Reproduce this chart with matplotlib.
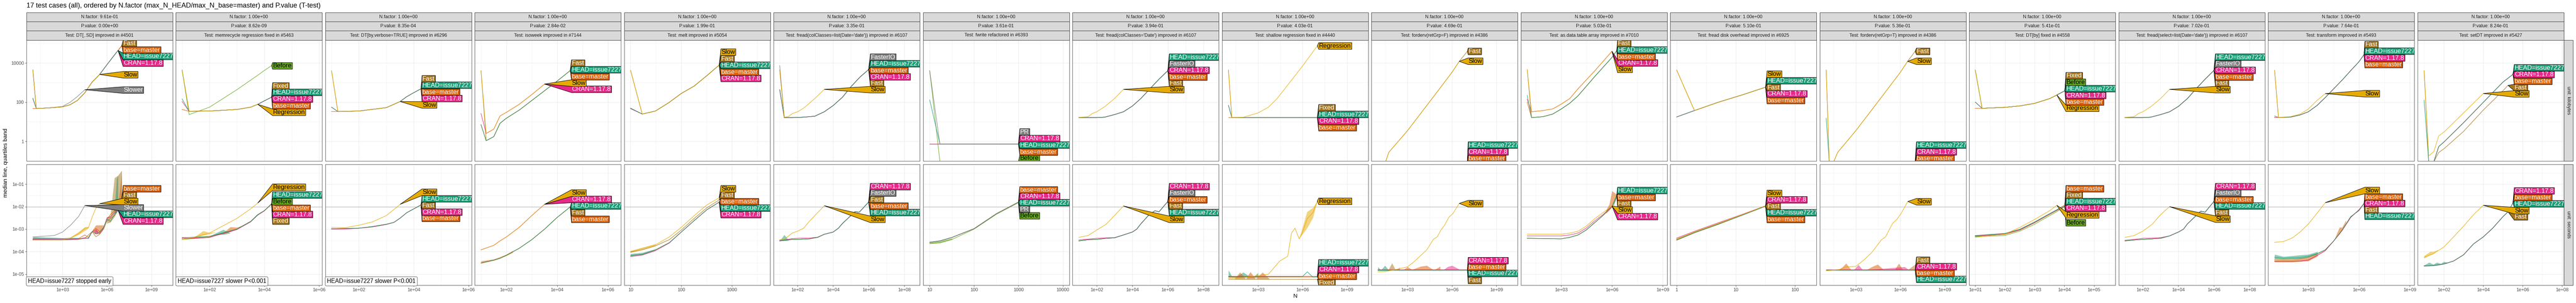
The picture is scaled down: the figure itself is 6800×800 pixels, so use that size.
import matplotlib
matplotlib.use("Agg")
import matplotlib.pyplot as plt
from matplotlib.patches import Polygon, Rectangle
from matplotlib.ticker import NullFormatter
from matplotlib.transforms import IdentityTransform
import numpy as np

plt.rcParams["font.family"] = ["Liberation Sans", "DejaVu Sans"]

HEAD = "HEAD=issue7227"
BASE = "base=master"
CRAN = "CRAN=1.17.8"
SLOW = "Slow"
FAST = "Fast"
SLOWER = "Slower"
REGR = "Regression"
FIXED = "Fixed"
BEFORE = "Before"
FIO = "FasterIO"
PR = "PR"

title = "17 test cases (all), ordered by N.factor (max_N_HEAD/max_N_base=master) and P.value (T-test)"
n_factors = ["9.61e-01"] + ["1.00e+00"] * 16
p_values = ["0.00e+00", "8.62e-09", "8.35e-04", "2.84e-02", "1.99e-01", "3.35e-01", "3.61e-01", "3.94e-01", "4.03e-01",
            "4.69e-01", "5.03e-01", "5.10e-01", "5.36e-01", "5.41e-01", "7.02e-01", "7.64e-01", "8.24e-01"]
test_names = ["DT[,.SD] improved in #4501", "memrecycle regression fixed in #5463", "DT[by,verbose=TRUE] improved in #6296",
              "isoweek improved in #7144", "melt improved in #5054", "fread(colClasses=list(Date='date')) improved in #6107",
              "fwrite refactored in #6393", "fread(colClasses='Date') improved in #6107", "shallow regression fixed in #4440",
              "forderv(retGrp=F) improved in #4386", "as.data.table.array improved in #7010",
              "fread disk overhead improved in #6925", "forderv(retGrp=T) improved in #4386", "DT[by] fixed in #4558",
              "fread(select=list(Date='date')) improved in #6107", "transform improved in #5493", "setDT improved in #5427"]
notes = {0: "HEAD=issue7227 stopped early", 1: "HEAD=issue7227 slower P<0.001", 2: "HEAD=issue7227 slower P<0.001"}

# x axis limits per panel, as powers of ten
x_lo_exp = [.5625, .77, .77, .751, .874, .656, .85, .64, .5625, .5625, .623, -.108, .5625, .794, .64, .615, .663]
x_hi_exp = [10.425, 6.11, 6.11, 6.515, 3.756, 8.875, 4.144, 8.86, 10.425, 10.425, 9.246, 2.366, 10.425, 5.72, 8.86, 9.27, 8.08]
ticks_369 = [1e3, 1e6, 1e9]
ticks_246 = [1e2, 1e4, 1e6]
ticks_2468 = [1e2, 1e4, 1e6, 1e8]
x_ticks = [ticks_369, ticks_246, ticks_246, ticks_246, [10, 100, 1000], ticks_2468, [10, 100, 1000, 10000], ticks_2468,
           ticks_369, ticks_369, ticks_369, [1, 10, 100], ticks_369, [1e1, 1e2, 1e3, 1e4, 1e5], ticks_2468, ticks_369, ticks_2468]
x_ticklabels = {0: ["1e+03", "1e+06", "1e+09"], 1: ["1e+02", "1e+04", "1e+06"], 2: ["1e+02", "1e+04", "1e+06"],
                3: ["1e+02", "1e+04", "1e+06"], 4: ["10", "100", "1000"], 5: ["1e+02", "1e+04", "1e+06", "1e+08"],
                6: ["10", "100", "1000", "10000"], 7: ["1e+02", "1e+04", "1e+06", "1e+08"], 8: ["1e+03", "1e+06", "1e+09"],
                9: ["1e+03", "1e+06", "1e+09"], 10: ["1e+03", "1e+06", "1e+09"], 11: ["1", "10", "100"],
                12: ["1e+03", "1e+06", "1e+09"], 13: ["1e+01", "1e+02", "1e+03", "1e+04", "1e+05"],
                14: ["1e+02", "1e+04", "1e+06", "1e+08"], 15: ["1e+03", "1e+06", "1e+09"], 16: ["1e+02", "1e+04", "1e+06", "1e+08"]}

# ---- DT[,.SD]
p01_kb_N = [10, 17, 100, 1000, 3200, 1e4, 3.2e4, 1e5, 3.2e5, 1e6, 3.2e6, 5.6e6, 1e7]
p01_kb_main = [47, 50, 57, 73, 120, 300, 1050, 2570, 8100, 25300, 42900, 76000]
p01_kb = {FAST: [4400] + p01_kb_main, BASE: [47] + p01_kb_main, CRAN: [150] + p01_kb_main[:11], HEAD: [160] + p01_kb_main[:11],
          SLOWER: [4400, 47, 50, 60, 97, 190, 427], SLOW: [4400] + p01_kb_main[:8]}
p01_s_N = [10, 280, 1000, 3500, 12000, 32000, 56000, 1e5, 1.8e5, 3.2e5, 5.9e5, 1e6, 1.7e6, 3.2e6, 5.6e6, 1e7]
p01_s = {FAST: [3.3e-4, 3.3e-4, 3.3e-4, 3.4e-4, 3.5e-4, 3.9e-4, 5.5e-4, 7.7e-4, 4.6e-4, 5.9e-4, 1e-3, 2.3e-3, 3e-3, 4e-3, 1.1e-2, 2.4e-2],
         BASE: [3.4e-4, 3.4e-4, 3.4e-4, 3.4e-4, 3.8e-4, 5.5e-4, 4.3e-4, 7.7e-4, 1.07e-3, 7.7e-4, 1.2e-3, 2.6e-3, 4.4e-3, 6.5e-3, 9.7e-3, 2.2e-2],
         CRAN: [3.6e-4, 3.5e-4, 3.5e-4, 3.5e-4, 3.6e-4, 4.2e-4, 3.8e-4, 7.7e-4, 8.7e-4, 6.3e-4, 1.1e-3, 3.2e-3, 3.4e-3, 5.5e-3, 7e-3],
         HEAD: [3.8e-4, 3.8e-4, 3.8e-4, 3.8e-4, 3.8e-4, 3.8e-4, 4e-4, 7.7e-4, 6.3e-4, 7.2e-4, 1.2e-3, 2.8e-3, 2.2e-3, 4.4e-3, 7e-3],
         SLOWER: [4.5e-4, 5.2e-4, 7.4e-4, 1.5e-3, 3.6e-3, 1.12e-2],
         SLOW: [3.3e-4, 3.3e-4, 3.3e-4, 4.1e-4, 6.3e-4, 1.07e-3, 1.17e-3, 3.4e-3, 8.8e-3, 1.36e-2]}
p01_s_bands = [(FAST, [1e6, 1.7e6, 3.2e6, 5.6e6, 1e7], [1.8e-3, 2e-3, 3.5e-3, 6.8e-3, 2.4e-2], [3.5e-3, 4e-3, 1.9e-1, 2.45e-1, 4.1e-1]),
               (BASE, [1e5, 1.8e5, 3.2e5, 5.9e5], [7.7e-4, 6e-4, 6.3e-4, 1.1e-3], [8.5e-4, 1.5e-3, 1.5e-3, 1.5e-3]),
               (BASE, [3.2e6, 5.6e6, 1e7], [6e-3, 9e-3, 2.2e-2], [7e-3, 1.1e-2, 3.4e-1]),
               (HEAD, [10, 280, 1000, 3500, 12000], [3.4e-4, 3.5e-4, 3.5e-4, 3.5e-4, 3.6e-4], [4.6e-4, 4.2e-4, 4e-4, 4.2e-4, 4.1e-4]),
               (HEAD, [3.2e6, 4.5e6, 5.6e6], [4.4e-3, 5.5e-3, 7e-3], [6e-3, 1.7e-1, 2.45e-1]),
               (CRAN, [1.4e5, 1.8e5, 2.4e5], [6e-4, 6.3e-4, 6e-4], [8e-4, 1.05e-3, 8e-4]),
               (SLOW, [3500, 12000, 32000, 56000], [3.9e-4, 5.6e-4, 8.5e-4, 1.1e-3], [4.4e-4, 7.5e-4, 1.25e-3, 1.3e-3])]
p01_kb_labels = [(SLOWER, 466), (SLOW, 387), (CRAN, 327), (HEAD, 292), (BASE, 259), (FAST, 225)]
p01_s_labels = [(CRAN, 1144), (HEAD, 1109), (BASE, 977), (FAST, 1010), (SLOW, 1043), (SLOWER, 1076)]

# ---- memrecycle
p02_kb_N = [10, 18, 100, 1000, 3200, 5800, 10000, 18600]
p02_kb_main = [34, 35, 42, 55, 77, 115, 178]
p02_kb = {FIXED: [4300] + p02_kb_main, BASE: [42] + p02_kb_main, CRAN: [107] + p02_kb_main, HEAD: [145] + p02_kb_main,
          BEFORE: [4300, 23, 55, 427, 1320, 2350, 4070, 7240], REGR: [4300] + p02_kb_main[:5]}
p02_s_N = [10, 18, 100, 1000, 3200, 5800, 10000, 18600]
p02_s = {FIXED: [3.5e-4, 3.7e-4, 4.3e-4, 1e-3, 2.2e-3, 4.4e-3, 6.6e-3, 1.3e-2],
         BEFORE: [3.5e-4, 3.7e-4, 4.3e-4, 1e-3, 2.2e-3, 4.4e-3, 6.6e-3, 1.3e-2],
         BASE: [3.9e-4, 4e-4, 4.6e-4, 1e-3, 2.2e-3, 4.4e-3, 6.6e-3, 1.35e-2],
         CRAN: [4e-4, 3.9e-4, 4.3e-4, 9.5e-4, 2.1e-3, 4.2e-3, 6.4e-3, 1.35e-2],
         HEAD: [4.3e-4, 4.3e-4, 4.8e-4, 1e-3, 2.2e-3, 4.4e-3, 6.6e-3, 1.3e-2],
         REGR: [3.5e-4, 3.9e-4, 6.7e-4, 3e-3, 8e-3, 1.45e-2]}
p02_s_bands = [(REGR, [28, 58, 100, 180], [4.2e-4, 5.2e-4, 6e-4, 7.5e-4], [4.4e-4, 8.4e-4, 7e-4, 7.5e-4]),
               (HEAD, [100, 180, 320, 560], [4.8e-4, 5.6e-4, 5.7e-4, 6.5e-4], [4.8e-4, 6.9e-4, 9.5e-4, 6.8e-4]),
               (BASE, [300, 580, 1000, 1500], [6e-4, 7.5e-4, 1e-3, 1.3e-3], [6.5e-4, 1.25e-3, 1.2e-3, 1.4e-3])]
p02_kb_labels = [(REGR, 581), (BASE, 547), (CRAN, 513), (HEAD, 478), (FIXED, 445), (BEFORE, 341)]
p02_s_labels = [(FIXED, 1144), (CRAN, 1110), (BASE, 1078), (BEFORE, 1044), (HEAD, 1009), (REGR, 969)]

# ---- DT[by,verbose=TRUE]
p03_kb_N = [10, 17, 100, 1000, 3200, 5600, 10000, 18600]
p03_kb_main = [33, 35, 52, 107, 190, 300, 480]
p03_kb = {FAST: [4000] + p03_kb_main, BASE: [33] + p03_kb_main, CRAN: [55] + p03_kb_main, HEAD: [55] + p03_kb_main,
          SLOW: [4000] + p03_kb_main[:4]}
p03_s_N = [10, 30, 100, 310, 1000, 1900, 3200, 5600, 18600]
p03_s_main = [1.04e-3, 1.07e-3, 1.1e-3, 1.3e-3, 1.65e-3, 2e-3, 3.1e-3, 5.4e-3, 1.2e-2]
p03_s = {FAST: p03_s_main, BASE: p03_s_main, CRAN: [1e-3, 1e-3, 1.1e-3, 1.25e-3, 1.6e-3, 2e-3, 3.1e-3, 5.4e-3, 1.2e-2], HEAD: p03_s_main,
         SLOW: [1.2e-3, 1.15e-3, 1.5e-3, 2.1e-3, 4e-3, 7.5e-3, 1.27e-2]}
p03_s_bands = []
p03_kb_labels = [(SLOW, 543), (CRAN, 510), (BASE, 477), (HEAD, 441), (FAST, 408)]
p03_s_labels = [(BASE, 1130), (CRAN, 1098), (FAST, 1064), (HEAD, 1029), (SLOW, 995)]

# ---- isoweek
p04_kb_N = [10, 16, 32, 56, 100, 320, 1000, 3200, 10000, 33000]
p04_kb_main = [1.07, 1.74, 8.3, 15, 39, 120, 380, 1175, 4070]
p04_kb_slow = [2.5, 4.2, 19.5, 30, 77, 240, 832]
p04_kb = {FAST: [4000] + p04_kb_main, BASE: [7] + p04_kb_main, HEAD: [7] + p04_kb_main, CRAN: [26] + p04_kb_slow,
          SLOW: [4000] + p04_kb_slow}
p04_s_N = [10, 32, 56, 100, 320, 1000, 3200, 10000, 33000]
p04_s_main = [3.1e-5, 4.2e-5, 5e-5, 6.9e-5, 1.4e-4, 3.4e-4, 1e-3, 3.3e-3, 9.8e-3]
p04_s_slow = [1.2e-4, 1.9e-4, 3e-4, 4.5e-4, 1.2e-3, 4e-3, 1.27e-2]
p04_s = {FAST: p04_s_main, BASE: p04_s_main, HEAD: p04_s_main, CRAN: p04_s_slow, SLOW: p04_s_slow}
p04_s_bands = [(BASE, [10, 32, 100, 180], [3e-5, 4e-5, 6.5e-5, 9e-5], [3.8e-5, 4.6e-5, 7.5e-5, 1.1e-4])]
p04_kb_labels = [(CRAN, 462), (SLOW, 430), (BASE, 397), (HEAD, 361), (FAST, 327)]
p04_s_labels = [(BASE, 1135), (FAST, 1101), (HEAD, 1066), (CRAN, 1032), (SLOW, 999)]

# ---- melt
p05_N = [10, 17, 31, 58, 100, 180, 320, 560]
p05_kb_main = [24.5, 35, 97, 275, 660, 2240, 7760]
p05_kb = {BASE: [49] + p05_kb_main, CRAN: [46] + p05_kb_main, HEAD: [49] + p05_kb_main, FAST: [4200] + p05_kb_main,
          SLOW: [4200] + p05_kb_main}
p05_s = {FAST: [9.5e-5, 1.2e-4, 1.8e-4, 3.4e-4, 9.1e-4, 3e-3, 8.9e-3, 2e-2],
         BASE: [6.7e-5, 7.6e-5, 1.2e-4, 2.5e-4, 7.4e-4, 2.4e-3, 7.3e-3, 1.6e-2],
         CRAN: [6e-5, 7e-5, 1.1e-4, 2.4e-4, 7.4e-4, 2.4e-3, 7.3e-3, 1.6e-2],
         HEAD: [6.7e-5, 7.6e-5, 1.2e-4, 2.5e-4, 7.4e-4, 2.4e-3, 7.3e-3, 1.6e-2],
         SLOW: [1e-4, 1.4e-4, 2e-4, 4.5e-4, 1.2e-3, 4e-3, 1.2e-2, 2.5e-2]}
p05_s_bands = [(HEAD, [10, 17, 31], [6e-5, 7e-5, 1.1e-4], [8e-5, 9e-5, 1.3e-4]), (SLOW, [10, 17, 31], [9e-5, 1.2e-4, 1.8e-4], [1.1e-4, 1.5e-4, 2.2e-4])]
p05_kb_labels = [(CRAN, 406), (BASE, 374), (HEAD, 338), (FAST, 304), (SLOW, 270)]
p05_s_labels = [(CRAN, 1111), (HEAD, 1077), (BASE, 1044), (FAST, 1010), (SLOW, 977)]

# ---- fread(colClasses=list(Date='date'))
p06_kb_N = [10, 18, 30, 52, 100, 220, 930, 3200, 1e4, 3.4e4, 1e5, 3.2e5, 1e6]
p06_kb_main = [16.2, 16.2, 16.2, 16.5, 17, 19, 32, 66, 178, 600, 1860, 4600]
p06_kb = {FAST: [4300] + p06_kb_main, BASE: [430] + p06_kb_main, CRAN: [427] + p06_kb_main, FIO: [7300] + p06_kb_main,
          HEAD: [430] + p06_kb_main, SLOW: [4300, 17, 18, 26, 32, 49, 151, 445]}
p06_s_N = [10, 18, 52, 100, 220, 460, 1350, 3200, 10000, 20000, 34000, 1e5, 1.7e5, 3e5, 1e6]
p06_s_main = [3e-4, 3.2e-4, 3.5e-4, 3.5e-4, 3.6e-4, 3.7e-4, 4.3e-4, 5.9e-4, 7.4e-4, 1.1e-3, 1.8e-3, 4e-3, 6e-3, 5.7e-3, 1.6e-2]
p06_s = {FAST: p06_s_main, BASE: p06_s_main, CRAN: [3.2e-4, 3.3e-4, 3.8e-4, 3.9e-4, 4e-4, 4e-4, 4.4e-4, 5.9e-4, 7.4e-4, 1.1e-3, 1.8e-3, 4e-3, 6e-3, 5.7e-3, 1.6e-2],
         FIO: p06_s_main, HEAD: p06_s_main, SLOW: [3.4e-4, 3.5e-4, 6.8e-4, 8.1e-4, 1.1e-3, 2.2e-3, 5.4e-3, 1.1e-2]}
p06_s_bands = [(HEAD, [10, 18, 32], [3e-4, 3e-4, 3.1e-4], [3e-4, 5.6e-4, 3.3e-4])]
p06_kb_labels = [(SLOW, 464), (FAST, 431), (CRAN, 398), (BASE, 365), (HEAD, 330), (FIO, 296)]
p06_s_labels = [(SLOW, 1135), (HEAD, 1100), (BASE, 1067), (FAST, 1033), (FIO, 999), (CRAN, 966)]

# ---- fwrite
p07_N = [10, 17, 32, 100, 320, 1000]
p07_kb = {BEFORE: [4000, .09, .09, .09, .09, .09], BASE: [.72, .72, .72, .72, .72, .72], HEAD: [129, .72, .72, .72, .72, .72],
          CRAN: [.72, .72, .72, .72, .72, .72], PR: [4000, .72, .72, .72, .72, .72]}
p07_s_main = [2.6e-4, 3e-4, 4.3e-4, 1.05e-3, 4.9e-3, 1.6e-2]
p07_s = {BEFORE: [2.3e-4, 2.5e-4, 3.5e-4, 1e-3, 4.6e-3, 1.5e-2], BASE: p07_s_main, CRAN: p07_s_main, HEAD: p07_s_main, PR: p07_s_main}
p07_s_bands = [(BEFORE, [10, 17, 32], [2.2e-4, 2.4e-4, 3.4e-4], [2.8e-4, 3e-4, 4e-4])]
p07_kb_labels = [(BEFORE, 819), (BASE, 787), (HEAD, 751), (CRAN, 717), (PR, 683)]
p07_s_labels = [(BEFORE, 1117), (PR, 1083), (HEAD, 1049), (CRAN, 1016), (BASE, 983)]

# ---- fread(colClasses='Date')
p08_kb_N = [10, 33, 56, 100, 280, 1000, 3200, 1e4, 3e4, 8.9e4, 3.2e5, 1e6]
p08_kb_main = [16.2, 16.2, 16.2, 16.2, 17, 23, 32, 62, 150, 430, 1480, 4000]
p08_kb = {FAST: p08_kb_main, BASE: p08_kb_main, CRAN: p08_kb_main, FIO: p08_kb_main, HEAD: p08_kb_main,
          SLOW: [16.6, 18, 26, 32, 58, 151, 445]}
p08_s_N = [10, 33, 100, 340, 1000, 3200, 1e4, 1.8e4, 3e4, 8.9e4, 1.9e5, 3.2e5, 1e6]
p08_s_main = [3e-4, 3.4e-4, 3.5e-4, 3.9e-4, 4.1e-4, 5.5e-4, 7.4e-4, 1e-3, 1.7e-3, 4.4e-3, 6.6e-3, 5.9e-3, 1.7e-2]
p08_s = {FAST: p08_s_main, BASE: p08_s_main, CRAN: [3.3e-4, 3.6e-4, 3.9e-4, 4.1e-4, 4.2e-4, 5.5e-4, 7.4e-4, 1e-3, 1.7e-3, 4.4e-3, 6.6e-3, 5.9e-3, 1.7e-2],
         FIO: p08_s_main, HEAD: p08_s_main, SLOW: [4.3e-4, 5.2e-4, 9.1e-4, 1.65e-3, 4e-3, 1.07e-2]}
p08_s_bands = []
p08_kb_labels = [(SLOW, 464), (FAST, 431), (BASE, 399), (CRAN, 364), (FIO, 331), (HEAD, 296)]
p08_s_labels = [(SLOW, 1135), (HEAD, 1100), (FAST, 1066), (BASE, 1034), (FIO, 999), (CRAN, 966)]

# ---- shallow regression
p09_kb_N = [10, 17, 100, 1000, 5000, 19000, 1e5, 1e6, 1e7]
p09_kb_flat = [16.2, 16.2, 16.2, 16.2, 16.2, 16.2, 16.2, 16.2]
p09_kb = {FIXED: [4300] + p09_kb_flat, BASE: [16.2] + p09_kb_flat, CRAN: [68] + p09_kb_flat, HEAD: [68] + p09_kb_flat,
          REGR: [4300, 16.2, 16.8, 28, 55, 150, 740, 6900, 74000]}
p09_s_N = [10, 100, 1000, 5100, 29000, 1e5, 1.8e5, 3.1e5, 5.9e5, 1e6, 2.1e6, 5e6, 1e7]
p09_s = {FIXED: [6e-6] * 13, BASE: [7.5e-6] * 13, CRAN: [8e-6] * 13,
         HEAD: [7.8e-6, 7.8e-6, 7.8e-6, 7.8e-6, 7.8e-6, 7.8e-6, 7.8e-6, 7.8e-6, 7.8e-6, 7.8e-6, 1.26e-5, 7.3e-6, 7.5e-6],
         REGR: [6.3e-6, 7e-6, 8.5e-6, 1e-5, 3.8e-5, 6.2e-5, 6.7e-4, 1.1e-3, 3.7e-4, 7.4e-4, 3e-3, 5.4e-3, 1.78e-2]}
p09_s_bands = [(HEAD, [10, 17, 40, 100, 250, 560, 1000], [7e-6, 7e-6, 7e-6, 7e-6, 7e-6, 7e-6, 7e-6], [1.5e-5, 8e-6, 8e-6, 1.2e-5, 8e-6, 8e-6, 1.15e-5]),
               (BASE, [25, 60, 150, 300, 700, 2000, 6000, 15000], [6e-6, 6e-6, 6e-6, 6e-6, 6e-6, 6e-6, 6e-6, 6e-6], [6e-6, 1.2e-5, 6e-6, 1.25e-5, 6e-6, 1.2e-5, 6e-6, 6e-6]),
               (REGR, [5.9e5, 2e6, 5e6, 1e7], [3.7e-4, 1.1e-3, 3.2e-3, 1.78e-2], [3.7e-4, 5.9e-3, 9e-3, 1.78e-2])]
p09_kb_labels = [(BASE, 661), (CRAN, 627), (HEAD, 592), (FIXED, 558), (REGR, 238)]
p09_s_labels = [(FIXED, 1463), (BASE, 1430), (CRAN, 1395), (HEAD, 1360), (REGR, 1042)]

# ---- forderv(retGrp=F)
p10_kb_N = [10, 33, 55, 1000, 32000, 1e6, 3.1e6, 1.1e7]
p10_kb = {BASE: [.09] * 8, CRAN: [.09] * 8, HEAD: [.09] * 8, FAST: [.09, .09, .275, 3.5, 107, 3300, 12000, 39000],
          SLOW: [.09, .09, .275, 3.5, 107, 3300, 12000]}
p10_s_N = [10, 33, 160, 1000, 2700, 2e4, 57000, 1e5, 1.8e5, 3.2e5, 6e5, 1.15e6, 3.1e6, 1.1e7]
p10_s = {FAST: [1.5e-5] * 14, BASE: [1.55e-5] * 14, CRAN: [1.55e-5] * 14, HEAD: [1.5e-5] * 14,
         SLOW: [1.26e-5, 1.3e-5, 1.6e-5, 2.1e-5, 3.5e-5, 1.2e-4, 3.6e-4, 4.5e-4, 9.1e-4, 1.5e-3, 3.3e-3, 4.9e-3, 1.4e-2]}
p10_s_bands = [(HEAD, [10, 16, 30, 55], [1.4e-5, 1.4e-5, 1.4e-5, 1.4e-5], [2.1e-5, 1.5e-5, 2.4e-5, 1.5e-5]),
               (FAST, [50, 90, 160, 300], [1.5e-5, 1.5e-5, 1.5e-5, 1.5e-5], [1.5e-5, 3.1e-5, 1.5e-5, 2e-5]),
               (BASE, [500, 1000, 2000, 8000, 2e4, 6e4, 1.6e5], [1.5e-5, 1.5e-5, 1.5e-5, 1.5e-5, 1.5e-5, 1.5e-5, 1.5e-5], [1.5e-5, 2.1e-5, 1.6e-5, 2.2e-5, 2.4e-5, 1.5e-5, 2.2e-5]),
               (CRAN, [2.5e5, 5e5, 1e6, 2e6, 4e6], [1.5e-5, 1.5e-5, 1.5e-5, 1.5e-5, 1.5e-5], [1.5e-5, 2.1e-5, 2.4e-5, 1.9e-5, 1.5e-5])]
p10_kb_labels = [(BASE, 820), (CRAN, 786), (HEAD, 751), (SLOW, 317), (FAST, 266)]
p10_s_labels = [(FAST, 1451), (HEAD, 1415), (BASE, 1383), (CRAN, 1349), (SLOW, 1054)]

# ---- as.data.table.array
p11_kb_N = [10, 18, 85, 320, 1000, 3200, 10000, 1e5, 1e6, 1.9e6]
p11_kb_main = [16.2, 18, 24.5, 44, 87, 210, 2100, 19000, 42000]
p11_kb = {FAST: [4600] + p11_kb_main, BASE: [100] + p11_kb_main, CRAN: [140, 32, 37, 45, 78, 150, 480, 4070, 39000],
          HEAD: [220] + p11_kb_main, SLOW: [4600, 32, 37, 45, 78, 150, 480, 4070, 39000]}
p11_s_N = [10, 1000, 3200, 10000, 30000, 1e5, 2.9e5, 1e6, 1.9e6]
p11_s_main = [3.9e-4, 3.7e-4, 4.3e-4, 5.5e-4, 9.1e-4, 2e-3, 4e-3, 9.8e-3, 3.2e-2]
p11_s = {FAST: p11_s_main, BASE: p11_s_main, CRAN: [5e-4, 5e-4, 5.5e-4, 6.7e-4, 1.1e-3, 2.4e-3, 4.4e-3, 1.07e-2],
         HEAD: p11_s_main, SLOW: [6e-4, 6e-4, 6.6e-4, 8.1e-4, 1.35e-3, 3e-3, 5.4e-3, 1.07e-2]}
p11_s_bands = [(BASE, [4.5e5, 7e5, 1e6, 1.9e6], [5e-3, 7e-3, 9.5e-3, 2.5e-2], [7e-3, 1.3e-2, 5e-2, 3.5e-2]),
               (HEAD, [1.2e6, 1.9e6], [1e-2, 2.5e-2], [1.4e-2, 4e-2])]
p11_kb_labels = [(SLOW, 359), (CRAN, 326), (BASE, 295), (HEAD, 259), (FAST, 225)]
p11_s_labels = [(CRAN, 1121), (SLOW, 1087), (FAST, 1054), (BASE, 1022), (HEAD, 986)]

# ---- fread disk overhead
p12_N = [1, 2, 5, 13, 32]
p12_kb = {BASE: [17.4, 37, 97, 235, 575], CRAN: [17.4, 37, 97, 235, 575], FAST: [4300, 37, 97, 235, 575],
          HEAD: [17.4, 37, 97, 235, 575], SLOW: [4300, 37, 97, 235, 575]}
p12_s = {BASE: [3.2e-4, 6.8e-4, 1.6e-3, 4.2e-3, 1.05e-2], CRAN: [4e-4, 8e-4, 1.9e-3, 4.6e-3, 1.1e-2],
         FAST: [3.5e-4, 7.2e-4, 1.7e-3, 4.3e-3, 1.05e-2], HEAD: [3.3e-4, 7e-4, 1.65e-3, 4.2e-3, 1.05e-2],
         SLOW: [3.7e-4, 7.6e-4, 1.8e-3, 4.5e-3, 1.1e-2]}
p12_s_bands = []
p12_kb_labels = [(BASE, 520), (CRAN, 486), (FAST, 453), (HEAD, 418), (SLOW, 384)]
p12_s_labels = [(BASE, 1136), (HEAD, 1101), (FAST, 1068), (CRAN, 1034), (SLOW, 1001)]

# ---- forderv(retGrp=T)
p13_kb_N = [10, 16, 32, 60, 1000, 32000, 1e6, 3.1e6, 1e7]
p13_kb = {BASE: [.09] * 9, CRAN: [.09] * 9, HEAD: [15, .09, .09, .09, .09, .09, .09, .09, .09],
          FAST: [4300, .09, .09, .275, 3.5, 107, 3300, 12000, 39000], SLOW: [4300, .09, .09, .275, 3.5, 107, 3300, 12000]}
p13_s_N = [10, 83, 215, 1000, 4000, 12000, 54000, 1e5, 3e5, 5.8e5, 1.1e6, 3.2e6, 1e7]
p13_s = {FAST: [1.5e-5] * 13, BASE: [1.55e-5] * 13, CRAN: [1.55e-5] * 13, HEAD: [1.5e-5] * 13,
         SLOW: [1.4e-5, 1.6e-5, 2.1e-5, 2.2e-5, 4.6e-5, 9.2e-5, 3.4e-4, 4.5e-4, 1.8e-3, 2.7e-3, 4.9e-3, 1.7e-2]}
p13_s_bands = [(BASE, [60, 120, 220, 500, 5000, 12000, 3e4, 8e4, 4e5, 8e5, 1.5e6], [1.5e-5] * 11, [1.5e-5, 2e-5, 3e-5, 1.5e-5, 1.5e-5, 2.1e-5, 2.7e-5, 1.5e-5, 1.5e-5, 3e-5, 1.5e-5]),
               (CRAN, [700, 1500, 3000, 2e6, 4e6], [1.5e-5] * 5, [1.5e-5, 2.6e-5, 1.5e-5, 2.1e-5, 1.5e-5]),
               (FAST, [3e6, 1e7, 2e7], [1.5e-5] * 3, [1.5e-5, 2.7e-5, 1.5e-5])]
p13_kb_labels = [(BASE, 820), (CRAN, 786), (HEAD, 751), (SLOW, 317), (FAST, 266)]
p13_s_labels = [(HEAD, 1446), (BASE, 1414), (CRAN, 1380), (FAST, 1347), (SLOW, 1044)]

# ---- DT[by]
p14_kb_N = [10, 17, 100, 320, 1000, 3200, 5600, 10500]
p14_kb_main = [48, 54, 64, 86, 150, 230, 380]
p14_kb = {BEFORE: [4300] + p14_kb_main, FIXED: [4300] + p14_kb_main, BASE: [48] + p14_kb_main, CRAN: [100] + p14_kb_main,
          HEAD: [100] + p14_kb_main, REGR: [4300] + p14_kb_main[:6]}
p14_s_N = [10, 100, 320, 1000, 3200, 5600, 10500]
p14_s = {BEFORE: [4.6e-4, 5.2e-4, 8.2e-4, 1.65e-3, 4e-3, 6e-3, 1e-2], FIXED: [4.8e-4, 5.8e-4, 9e-4, 1.9e-3, 4.5e-3, 6.7e-3, 1e-2],
         BASE: [5e-4, 6.2e-4, 9.5e-4, 2e-3, 4.8e-3, 7.2e-3, 1.2e-2], CRAN: [5e-4, 6.2e-4, 9.5e-4, 2e-3, 4.8e-3, 7e-3, 1.1e-2],
         HEAD: [5.2e-4, 6.5e-4, 1e-3, 2.1e-3, 4.9e-3, 7.3e-3, 1.07e-2], REGR: [4.3e-4, 6e-4, 1.2e-3, 2.7e-3, 6.6e-3, 1.15e-2]}
p14_s_bands = []
p14_kb_labels = [(REGR, 560), (BASE, 528), (CRAN, 494), (HEAD, 459), (BEFORE, 426), (FIXED, 392)]
p14_s_labels = [(BEFORE, 1153), (REGR, 1112), (CRAN, 1078), (HEAD, 1043), (FIXED, 1010), (BASE, 977)]

# ---- fread(select=list(Date='date'))
p15_kb_N = [10, 33, 56, 100, 280, 1000, 3200, 1e4, 3.2e4, 1e5, 3.2e5, 1e6]
p15_kb_main = [16.2, 16.2, 16.2, 16.2, 17, 23, 32, 60, 150, 480, 1480, 4100]
p15_kb = {FAST: p15_kb_main, BASE: p15_kb_main, CRAN: p15_kb_main, FIO: p15_kb_main, HEAD: p15_kb_main,
          SLOW: [16.6, 18, 26, 32, 58, 151, 445]}
p15_s_N = [10, 33, 100, 340, 1000, 3200, 1e4, 1.95e4, 3.2e4, 1e5, 1.8e5, 3.2e5, 1e6]
p15_s_main = [3e-4, 3.3e-4, 3.5e-4, 3.7e-4, 3.9e-4, 5e-4, 7.4e-4, 1e-3, 1.7e-3, 4e-3, 6.3e-3, 5.7e-3, 1.7e-2]
p15_s = {FAST: p15_s_main, BASE: p15_s_main, CRAN: [3.2e-4, 3.5e-4, 3.9e-4, 4e-4, 4.2e-4, 5e-4, 7.4e-4, 1e-3, 1.7e-3, 4e-3, 6.3e-3, 5.7e-3, 1.7e-2],
         FIO: p15_s_main, HEAD: p15_s_main, SLOW: [4.3e-4, 5.2e-4, 8.1e-4, 1.65e-3, 4.4e-3, 1e-2]}
p15_s_bands = []
p15_kb_labels = [(SLOW, 464), (FAST, 431), (BASE, 399), (CRAN, 364), (FIO, 331), (HEAD, 296)]
p15_s_labels = [(SLOW, 1134), (FAST, 1101), (HEAD, 1066), (BASE, 1034), (FIO, 999), (CRAN, 966)]

# ---- transform
p16_kb_N = [10, 17, 85, 320, 1000, 3200, 1e4, 3.2e4, 1e5, 3.2e5, 1e6, 2e6]
p16_kb_main = [16.6, 17, 22, 32, 66, 170, 480, 1320, 4000, 11500, 27000]
p16_kb = {FAST: [4200] + p16_kb_main, BASE: [16.6] + p16_kb_main, CRAN: [16.6] + p16_kb_main, HEAD: [19.5] + p16_kb_main,
          SLOW: [4200, 16.6, 18, 24.5, 44, 120, 270]}
p16_s_N = [10, 34, 115, 320, 1000, 3500, 1e4, 3.2e4, 1e5, 3.2e5, 1e6, 2e6]
p16_s = {FAST: [4.6e-5, 4.5e-5, 4.6e-5, 4.8e-5, 5.6e-5, 8e-5, 1.2e-4, 3e-4, 9e-4, 3.5e-3, 7e-3, 1.4e-2],
         BASE: [3.8e-5, 3.8e-5, 3.8e-5, 3.8e-5, 4.2e-5, 6.9e-5, 1.1e-4, 3e-4, 8.7e-4, 3.3e-3, 7.3e-3, 1.4e-2],
         CRAN: [3.7e-5, 3.7e-5, 3.7e-5, 3.8e-5, 4.2e-5, 6.9e-5, 1.1e-4, 3e-4, 8.7e-4, 3.3e-3, 7.3e-3, 1.4e-2],
         HEAD: [5.6e-5, 5.1e-5, 5.3e-5, 5.4e-5, 6.2e-5, 8.3e-5, 1.2e-4, 3e-4, 9.1e-4, 3.6e-3, 6.6e-3, 1.4e-2],
         SLOW: [2.6e-4, 2.8e-4, 4.1e-4, 7.4e-4, 1.7e-3, 5.4e-3, 1.5e-2]}
p16_s_bands = [(BASE, [3.2e4, 7e4, 1e5, 1.7e5], [3e-4, 6e-4, 9e-4, 2e-3], [3e-4, 1.2e-3, 1.2e-3, 2.5e-3]),
               (BASE, [10, 115, 1000, 3500], [3.4e-5, 3.4e-5, 3.8e-5, 6.2e-5], [4.3e-5, 4.4e-5, 5.5e-5, 8e-5]),
               (HEAD, [10, 34, 115, 320, 1000, 3500], [4.6e-5, 4.6e-5, 4.6e-5, 4.8e-5, 5.5e-5, 7.5e-5], [7.5e-5, 6e-5, 6.5e-5, 7e-5, 7.5e-5, 1e-4])]
p16_kb_labels = [(SLOW, 485), (BASE, 334), (CRAN, 300), (HEAD, 265), (FAST, 231)]
p16_s_labels = [(HEAD, 1119), (FAST, 1086), (CRAN, 1053), (BASE, 1020), (SLOW, 986)]

# ---- setDT
p17_kb_N = [10, 17, 31, 55, 100, 1000, 1e4, 1e5, 1.8e5, 3.2e5]
p17_kb_main = [.09, .09, .54, .91, 8.9, 97, 1050, 1650, 2600]
p17_kb = {FAST: [4000, .09, .09, .27, .41, 3.2, 39, 380, 710], BASE: [.09] + p17_kb_main, CRAN: [.09] + p17_kb_main,
          HEAD: [125] + p17_kb_main, SLOW: [4000, .18, .295, 1.9, 2.9, 28, 275]}
p17_s_N = [10, 29, 100, 310, 1000, 3200, 1e4, 3e4, 1e5, 1.8e5, 3.2e5]
p17_s_main = [2.3e-5, 2.4e-5, 2.8e-5, 3.8e-5, 7.2e-5, 2.2e-4, 4.5e-4, 1.1e-3, 3.6e-3, 5.9e-3, 1.45e-2]
p17_s = {FAST: p17_s_main[:10], BASE: p17_s_main, CRAN: p17_s_main, HEAD: p17_s_main,
         SLOW: [5.6e-5, 8e-5, 1.6e-4, 4.5e-4, 1.35e-3, 4.4e-3, 1.15e-2]}
p17_s_bands = [(SLOW, [10, 20, 29, 50], [5e-5, 7e-5, 8e-5, 1.1e-4], [6.5e-5, 1e-4, 1e-4, 1.2e-4]),
               (HEAD, [10, 18, 29, 45, 70, 100, 150], [2.2e-5, 2.3e-5, 2.3e-5, 2.4e-5, 2.6e-5, 2.8e-5, 3e-5], [2.5e-5, 3.3e-5, 2.7e-5, 3.3e-5, 2.9e-5, 3.6e-5, 3.3e-5])]
p17_kb_labels = [(SLOW, 486), (FAST, 453), (BASE, 421), (CRAN, 386), (HEAD, 351)]
p17_s_labels = [(FAST, 1122), (SLOW, 1090), (HEAD, 1055), (BASE, 1022), (CRAN, 988)]

kb_N = [p01_kb_N, p02_kb_N, p03_kb_N, p04_kb_N, p05_N, p06_kb_N, p07_N, p08_kb_N, p09_kb_N, p10_kb_N, p11_kb_N, p12_N, p13_kb_N,
        p14_kb_N, p15_kb_N, p16_kb_N, p17_kb_N]
s_N = [p01_s_N, p02_s_N, p03_s_N, p04_s_N, p05_N, p06_s_N, p07_N, p08_s_N, p09_s_N, p10_s_N, p11_s_N, p12_N, p13_s_N,
       p14_s_N, p15_s_N, p16_s_N, p17_s_N]
kb_series = [p01_kb, p02_kb, p03_kb, p04_kb, p05_kb, p06_kb, p07_kb, p08_kb, p09_kb, p10_kb, p11_kb, p12_kb, p13_kb, p14_kb, p15_kb, p16_kb, p17_kb]
s_series = [p01_s, p02_s, p03_s, p04_s, p05_s, p06_s, p07_s, p08_s, p09_s, p10_s, p11_s, p12_s, p13_s, p14_s, p15_s, p16_s, p17_s]
s_bands = [p01_s_bands, p02_s_bands, p03_s_bands, p04_s_bands, p05_s_bands, p06_s_bands, p07_s_bands, p08_s_bands, p09_s_bands,
           p10_s_bands, p11_s_bands, p12_s_bands, p13_s_bands, p14_s_bands, p15_s_bands, p16_s_bands, p17_s_bands]
kb_labels = [p01_kb_labels, p02_kb_labels, p03_kb_labels, p04_kb_labels, p05_kb_labels, p06_kb_labels, p07_kb_labels, p08_kb_labels,
             p09_kb_labels, p10_kb_labels, p11_kb_labels, p12_kb_labels, p13_kb_labels, p14_kb_labels, p15_kb_labels, p16_kb_labels, p17_kb_labels]
s_labels = [p01_s_labels, p02_s_labels, p03_s_labels, p04_s_labels, p05_s_labels, p06_s_labels, p07_s_labels, p08_s_labels,
            p09_s_labels, p10_s_labels, p11_s_labels, p12_s_labels, p13_s_labels, p14_s_labels, p15_s_labels, p16_s_labels, p17_s_labels]

colors = {HEAD: "#1B9E77", BASE: "#D95F02", CRAN: "#E7298A", SLOW: "#E6AB02", REGR: "#E6AB02", FAST: "#A6761D", FIXED: "#A6761D",
          BEFORE: "#66A61E", SLOWER: "#7F7F7F", FIO: "#7F7F7F", PR: "#7F7F7F"}
white_text = {HEAD, BASE, CRAN, FAST, FIXED, SLOWER, FIO, PR}
line_order = [FIXED, FAST, BEFORE, FIO, BASE, CRAN, HEAD, PR, SLOWER, REGR, SLOW]

# layout in pixels of the 6800x800 picture
W, H = 6800, 800
PANEL_LEFT, PANEL_W, PANEL_PITCH = 69.6, 385.9, 394.5
KB_TOP, KB_BOTTOM = 106.0, 425.3
S_TOP, S_BOTTOM = 433.7, 753.3
STRIP_ROWS = [(33.3, 57.0), (57.0, 81.0), (81.0, 106.0)]
LABEL_X = 255.5   # label boxes all start this far into the panel
LABEL_H = 17.4
LABEL_ROW_SCALE = 1.96
kb_ylim = (10 ** -1.01, 10 ** 5.16)
s_ylim = (10 ** -5.5, 10 ** -0.113)
GRID = "#EBEBEB"
EDGE = "#4D4D4D"

fig = plt.figure(figsize=(W / 100, H / 100), dpi=100, facecolor="white")


def px_axes(left, top, width, bottom):
    return fig.add_axes([left / W, 1 - bottom / H, width / W, (bottom - top) / H])


def strip(x0, y0, x1, y1, text, rotation=0):
    fig.add_artist(Rectangle((x0 / W, 1 - y1 / H), (x1 - x0) / W, (y1 - y0) / H, transform=fig.transFigure,
                             fc="#D9D9D9", ec="#333333", lw=0.75))
    fig.text((x0 + x1) / 2 / W, 1 - (y0 + y1) / 2 / H, text, ha="center", va="center", fontsize=8.8, color="#1A1A1A", rotation=rotation)


def draw_labels(ax, labels, series, xs, left):
    renderer = fig.canvas.get_renderer()
    for k, (name, row) in enumerate(labels):
        ys = series[name]
        tip = ax.transData.transform((xs[len(ys) - 1], ys[-1]))
        cy = H - row / LABEL_ROW_SCALE
        z = 5 + k * 0.1
        txt = ax.text(left + LABEL_X + 1, cy, name, transform=IdentityTransform(), ha="left", va="center", fontsize=12,
                      color="white" if name in white_text else "black", zorder=z + 0.05, clip_on=True)
        w = txt.get_window_extent(renderer).width
        x0, x1 = left + LABEL_X, left + LABEL_X + w + 3
        y0, y1 = cy - LABEL_H / 2, cy + LABEL_H / 2
        ax.add_patch(Polygon([tip, (x0, y1), (x1, y1), (x1, y0), (x0, y0)], closed=True, transform=IdentityTransform(),
                             fc=colors[name], ec="black", lw=0.8, zorder=z, clip_on=True))


def setup_axis(ax, i, y_major, y_minor, y_labels, lims, show_x):
    ax.set_xscale("log")
    ax.set_yscale("log")
    ax.set_xlim(10 ** x_lo_exp[i], 10 ** x_hi_exp[i])
    ax.set_ylim(*lims)
    exps = np.log10(x_ticks[i])
    step = exps[1] - exps[0]
    mids = np.arange(exps[0] - step / 2, x_hi_exp[i], step)
    mids = mids[mids > x_lo_exp[i]]
    ax.set_xticks(x_ticks[i], labels=x_ticklabels[i])
    ax.set_xticks(10 ** mids, minor=True)
    ax.set_yticks(y_major, labels=y_labels)
    ax.set_yticks(y_minor, minor=True)
    ax.xaxis.set_minor_formatter(NullFormatter())
    ax.yaxis.set_minor_formatter(NullFormatter())
    ax.grid(True, which="major", color=GRID, lw=0.8)
    ax.grid(True, which="minor", color=GRID, lw=0.4)
    ax.set_axisbelow(True)
    ax.tick_params(which="minor", length=0)
    ax.tick_params(which="major", length=2.75, width=0.6, color="#333333", labelcolor="#4D4D4D", labelsize=8.8, pad=2)
    ax.tick_params(axis="x", bottom=show_x, labelbottom=show_x)
    ax.tick_params(axis="y", left=(i == 0), labelleft=(i == 0))
    for spine in ax.spines.values():
        spine.set_color(EDGE)
        spine.set_linewidth(0.75)


for i in range(17):
    left = PANEL_LEFT + i * PANEL_PITCH
    for (y0, y1), text in zip(STRIP_ROWS, ["N.factor: " + n_factors[i], "P.value: " + p_values[i], "Test: " + test_names[i]]):
        strip(left, y0, left + PANEL_W, y1, text)

    top = px_axes(left, KB_TOP, PANEL_W, KB_BOTTOM)
    setup_axis(top, i, [1, 100, 10000], [10, 1000, 1e5], ["1", "100", "10000"], kb_ylim, False)
    for name in line_order:
        if name in kb_series[i]:
            ys = kb_series[i][name]
            top.plot(kb_N[i][:len(ys)], ys, color=colors[name], lw=1.0, alpha=0.85)
    draw_labels(top, kb_labels[i], kb_series[i], kb_N[i], left)

    bot = px_axes(left, S_TOP, PANEL_W, S_BOTTOM)
    setup_axis(bot, i, [1e-1, 1e-2, 1e-3, 1e-4, 1e-5], [10 ** -.5, 10 ** -1.5, 10 ** -2.5, 10 ** -3.5, 10 ** -4.5],
               ["1e-01", "1e-02", "1e-03", "1e-04", "1e-05"], s_ylim, True)
    bot.axhline(0.01, color="#B3B3B3", lw=0.9, zorder=1)
    for name, xb, lo, hi in s_bands[i]:
        bot.fill_between(xb, lo, hi, color=colors[name], alpha=0.5, lw=0)
    for name in line_order:
        if name in s_series[i]:
            ys = s_series[i][name]
            bot.plot(s_N[i][:len(ys)], ys, color=colors[name], lw=1.0, alpha=0.85)
    draw_labels(bot, s_labels[i], s_series[i], s_N[i], left)
    if i in notes:
        bot.text(4.6 / PANEL_W, 10.5 / (S_BOTTOM - S_TOP), notes[i], transform=bot.transAxes, fontsize=11.2, ha="left", va="center",
                 color="black", zorder=7, bbox=dict(boxstyle="round,pad=0.3,rounding_size=0.25", fc="white", ec=EDGE, lw=0.7))

strip(left + PANEL_W, KB_TOP, left + PANEL_W + 24.6, KB_BOTTOM, "unit: kilobytes", rotation=-90)
strip(left + PANEL_W, S_TOP, left + PANEL_W + 24.6, S_BOTTOM, "unit: seconds", rotation=-90)

fig.text(69.6 / W, 1 - 15.5 / H, title, fontsize=13, ha="left", va="center", color="black")
fig.text(15 / W, 1 - 430 / H, "median line, quartiles band", rotation=90, fontsize=11, ha="center", va="center")
fig.text(3419 / W, 1 - 782 / H, "N", fontsize=11, ha="center", va="center")

fig.savefig("out.png", dpi=100)
